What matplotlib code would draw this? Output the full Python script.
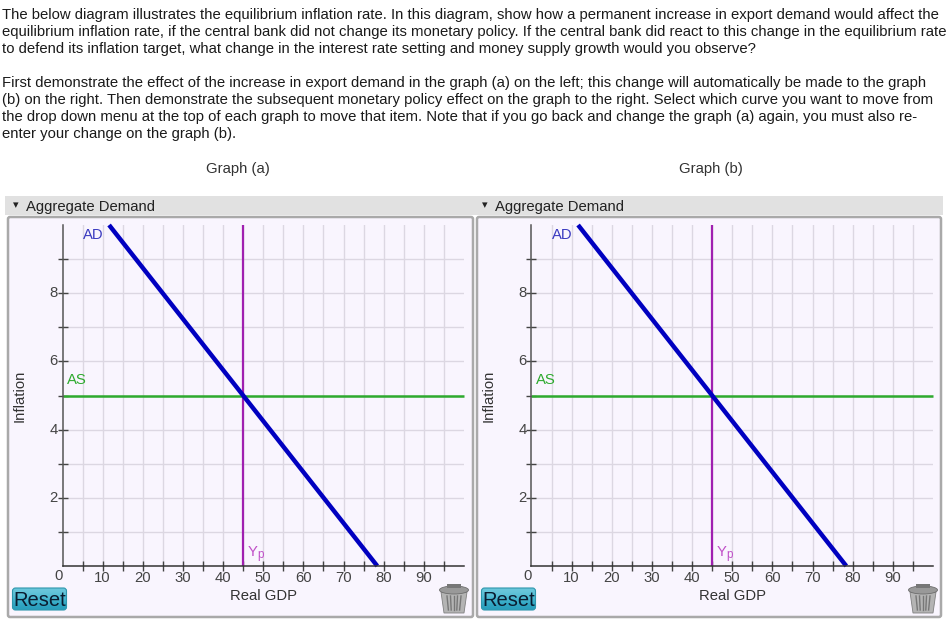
import numpy as np
import matplotlib
matplotlib.use("Agg")
import matplotlib.pyplot as plt
from matplotlib.patches import Rectangle, FancyBboxPatch, Polygon, Ellipse
from matplotlib.transforms import ScaledTranslation

plt.rcParams["font.family"] = ["Liberation Sans", "DejaVu Sans"]

W, H = 953, 632

intro_lines = [
    "The below diagram illustrates the equilibrium inflation rate. In this diagram, show how a permanent increase in export demand would affect the",
    "equilibrium inflation rate, if the central bank did not change its monetary policy. If the central bank did react to this change in the equilibrium rate",
    "to defend its inflation target, what change in the interest rate setting and money supply growth would you observe?",
    "",
    "First demonstrate the effect of the increase in export demand in the graph (a) on the left; this change will automatically be made to the graph",
    "(b) on the right. Then demonstrate the subsequent monetary policy effect on the graph to the right. Select which curve you want to move from",
    "the drop down menu at the top of each graph to move that item. Note that if you go back and change the graph (a) again, you must also re-",
    "enter your change on the graph (b).",
]

x_major = [10, 20, 30, 40, 50, 60, 70, 80, 90]
x_minor = [5, 15, 25, 35, 45, 55, 65, 75, 85, 95]
y_major = [2, 4, 6, 8]
y_minor = [1, 3, 5, 7, 9]

ad_x = [11.6, 78.4]
ad_y = [10, 0]
as_x = [0, 100]
as_y = [5, 5]
yp_x = [45, 45]
yp_y = [0, 10]

panel_bg = "#f9f5fe"
grid_col = "#dcd7e2"
text_col = "#333333"
fs = 10.7

fig = plt.figure(figsize=(W / 100, H / 100), dpi=100)

# page furniture in pixel coords
bg = fig.add_axes([0, 0, 1, 1])
bg.axis("off")

for i, line in enumerate(intro_lines):
    bg.text(2, 15 + i * 17, line, fontsize=fs, color="#1a1a1a", va="center", ha="left")

bg.text(238, 168.5, "Graph (a)", fontsize=fs, color=text_col, ha="center", va="center")
bg.text(711, 168.5, "Graph (b)", fontsize=fs, color=text_col, ha="center", va="center")

bg.add_patch(Rectangle((5, 196), 938, 19, fc="#e1e1e1", ec="none"))

# button shading, top to bottom
button_shade = np.array([[0.42, 0.78, 0.86], [0.27, 0.72, 0.82], [0.16, 0.62, 0.74]]).reshape(3, 1, 3)


def draw_panel(left, right, ax_left):
    bg.add_patch(FancyBboxPatch((left, 217), right - left, 400, boxstyle="round,pad=0,rounding_size=2",
                                fc=panel_bg, ec="#a9a9a9", lw=1.8))
    bg.text(left + 8, 205, "\u25be", fontsize=8, color="#222222", ha="center", va="center",
            family="DejaVu Sans")
    bg.text(left + 18, 206.5, "Aggregate Demand", fontsize=fs, color="#222222", va="center")

    # Reset button
    shape = FancyBboxPatch((left + 4.5, 588), 54, 22, boxstyle="round,pad=0,rounding_size=3",
                           fc="none", ec="#2e97ad", lw=0.8, zorder=2.5)
    bg.add_patch(shape)
    im = bg.imshow(button_shade, extent=(left + 4, left + 59, 610, 588), aspect="auto",
                   interpolation="bicubic", zorder=2)
    im.set_clip_path(shape)
    bg.text(left + 32, 600, "Reset", fontsize=14.5, color="#0a1c30", ha="center", va="center", zorder=3)

    # bin
    cx = left + 446
    bg.add_patch(Polygon([(cx - 13, 592), (cx + 13, 592), (cx + 10, 613), (cx - 10, 613)],
                         closed=True, fc="#b4b4b4", ec="#808080", lw=0.6))
    for dx in (-7, -3.5, 0, 3.5, 7):
        bg.plot([cx + dx, cx + dx * 0.8], [596, 610], color="#777777", lw=1)
    bg.add_patch(Ellipse((cx, 590), 29, 8, fc="#999999", ec="#6e6e6e", lw=0.6))
    bg.add_patch(Rectangle((cx - 7, 584), 14, 4, fc="#777777", ec="none"))

    # chart
    ax = fig.add_axes([ax_left / W, 1 - 566 / H, 401.5 / W, 341 / H])
    ax.patch.set_alpha(0)
    ax.set_xlim(0, 100)
    ax.set_ylim(0, 10)
    for s in ("top", "right"):
        ax.spines[s].set_visible(False)
    ax.spines["left"].set_color("#555555")
    ax.spines["bottom"].set_color("#333333")
    ax.spines["left"].set_linewidth(1.1)
    ax.spines["bottom"].set_linewidth(1.1)

    ax.set_xticks(x_major)
    ax.set_xticks(x_minor, minor=True)
    ax.set_yticks(y_major)
    ax.set_yticks(y_minor, minor=True)
    ax.grid(True, which="both", color=grid_col, lw=1)
    ax.set_axisbelow(True)
    ax.tick_params(which="both", direction="inout", length=6.5, width=1, color="#444444")
    ax.tick_params(axis="both", labelsize=fs, labelcolor="#444444", pad=0)
    up = ScaledTranslation(0, 1.5 / 100, fig.dpi_scale_trans)
    for lab in ax.get_yticklabels():
        lab.set_transform(lab.get_transform() + up)
    ax.text(-1.0, -0.1, "0", ha="center", va="top", fontsize=fs, color="#444444")

    ax.plot(as_x, as_y, color="#2eaa2e", lw=1.8, solid_capstyle="butt", clip_on=False)
    ax.plot(yp_x, yp_y, color="#a020b0", lw=1.6, solid_capstyle="butt", clip_on=False)
    ax.plot(ad_x, ad_y, color="#0000c0", lw=3.2, solid_capstyle="butt", clip_on=False)

    ax.text(7.6, 9.72, "AD", color="#3a3ac0", fontsize=fs, ha="center", va="center")
    ax.text(3.6, 5.45, "AS", color="#2eaa2e", fontsize=fs, ha="center", va="center")
    ax.text(46.0, 0.42, "Y", color="#c050c8", fontsize=fs, ha="left", va="center")
    ax.text(48.6, 0.31, "p", color="#c050c8", fontsize=8.5, ha="left", va="center")

    ax.set_xlabel("Real GDP", fontsize=fs, color=text_col)
    ax.set_ylabel("Inflation", fontsize=fs, color=text_col)
    ax.yaxis.set_label_coords(-0.09, 0.5)
    ax.xaxis.set_label_coords(0.5, -0.068)


draw_panel(8, 473, 62.5)
draw_panel(477, 941, 531.5)

bg.set_xlim(0, W)
bg.set_ylim(H, 0)

fig.savefig("out.png", dpi=100, facecolor="white")
